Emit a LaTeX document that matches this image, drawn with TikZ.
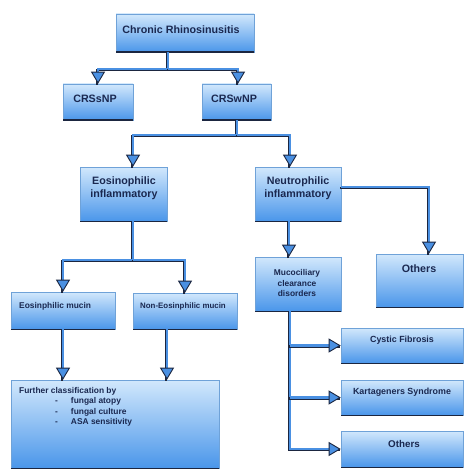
\documentclass[tikz,border=0pt]{standalone}
\usepackage{fontspec}
\setmainfont{Liberation Sans}
\usetikzlibrary{arrows.meta,calc}
\definecolor{lineblue}{HTML}{4A90E2}
\definecolor{navy}{HTML}{1B2640}
\definecolor{txt}{HTML}{1A2850}
\definecolor{boxtop}{HTML}{D2E8FC}
\definecolor{boxbot}{HTML}{4A96EA}
\definecolor{boxline}{HTML}{6FA2D8}
\begin{document}
\begin{tikzpicture}[x=1pt,y=-1pt,
  box/.style={rectangle, draw=boxline, line width=0.6pt, top color=boxtop, bottom color=boxbot, inner sep=0pt},
  lbl/.style={text=txt, align=center, inner sep=0pt},
  fbig/.style={font=\bfseries\fontsize{10.7}{13}\selectfont},
  fsmall/.style={font=\bfseries\fontsize{8.4}{10.5}\selectfont},
  conn/.style={draw=lineblue, line width=2.6pt,
    preaction={draw=navy, line width=2.6pt, arrows=-, transform canvas={shift={(-1pt,-1pt)}}}},
  arr/.style={conn, -{Triangle[width=14pt,length=12pt,fill=lineblue,color=navy,line width=0.9pt]}},
  base/.style={draw=navy, line width=1.6pt}
]
\fill[white] (0,0) rectangle (474,476);
\useasboundingbox (0,0) rectangle (474,476);

% boxes
\node[box, minimum width=138pt, minimum height=38pt] (cr) at (185,33) {};
\node[box, minimum width=70pt, minimum height=36pt] (crss) at (98,102) {};
\node[box, minimum width=69pt, minimum height=36pt] (crsw) at (236.5,102) {};
\node[box, minimum width=87pt, minimum height=54pt] (eos) at (123.5,194) {};
\node[box, minimum width=86pt, minimum height=54pt] (neu) at (298,194) {};
\node[box, minimum width=87pt, minimum height=53pt] (oth1) at (419.5,280.5) {};
\node[box, minimum width=104pt, minimum height=37pt] (emuc) at (63,310.5) {};
\node[box, minimum width=104pt, minimum height=36pt] (nemuc) at (185,311) {};
\node[box, minimum width=208pt, minimum height=88pt] (fur) at (115,424) {};
\node[box, minimum width=86pt, minimum height=54pt] (muco) at (298,284) {};
\node[box, minimum width=122pt, minimum height=35pt] (cf) at (402,345.5) {};
\node[box, minimum width=122pt, minimum height=35pt] (kart) at (402,397.5) {};
\node[box, minimum width=122pt, minimum height=36pt] (oth2) at (402,449) {};

\foreach \b in {cr,crss,crsw,eos,neu,oth1,emuc,nemuc,fur,muco,cf,kart,oth2}
  \draw[base] ([xshift=0.3pt]\b.south west) -- ([xshift=-0.3pt]\b.south east);

% labels
\node[lbl, fbig] (tcr) at (181,30) {Chronic Rhinosinusitis};
\node[lbl, fbig] (tcrss) at (95,99) {CRSsNP};
\node[lbl, fbig] (tcrsw) at (234,99) {CRSwNP};
\node[lbl, fbig] (teos) at (124,188) {Eosinophilic\\inflammatory};
\node[lbl, fbig] (tneu) at (298,188) {Neutrophilic\\inflammatory};
\node[lbl, fbig] (toth1) at (419,269) {Others};
\node[lbl, fsmall, anchor=west] (temuc) at (19,306) {Eosinphilic mucin};
\node[lbl, font=\bfseries\fontsize{7.9}{10}\selectfont] (tnemuc) at (183,306) {Non-Eosinphilic mucin};
\node[lbl, fsmall, anchor=north west, align=left] (tfur) at (19,387)
  {Further classification by\\\hspace{36pt}-\hspace{13pt}fungal atopy\\\hspace{36pt}-\hspace{13pt}fungal culture\\\hspace{36pt}-\hspace{13pt}ASA sensitivity};
\node[lbl, fsmall] (tmuco) at (297,283) {Mucociliary\\clearance\\disorders};
\node[lbl, font=\bfseries\fontsize{8.9}{11}\selectfont] (tcf) at (402,340) {Cystic Fibrosis};
\node[lbl, font=\bfseries\fontsize{8.9}{11}\selectfont] (tkart) at (402,392) {Kartageners Syndrome};
\node[lbl, font=\bfseries\fontsize{9.8}{12}\selectfont] (toth2) at (404,444) {Others};

% connectors
\coordinate (j1) at (168,69);
\draw[conn] (cr.south -| j1) -- (j1);
\draw[arr] (j1) -| (crss.north);
\draw[arr] (j1) -| ([xshift=1.5pt]crsw.north);

\coordinate (j2) at (237,135);
\draw[conn] (crsw.south -| j2) -- (j2);
\draw[arr] (j2) -| ([xshift=9.5pt]eos.north);
\draw[arr] (j2) -| ([xshift=-8pt]neu.north);

\draw[arr] ([yshift=7pt]neu.east) -| ([xshift=9.5pt]oth1.north);

\coordinate (j3) at (133,260);
\draw[conn] (eos.south -| j3) -- (j3);
\draw[arr] (j3) -| (emuc.north);
\draw[arr] (j3) -| (nemuc.north);

\draw[arr] (emuc.south) -- (emuc.south |- fur.north);
\draw[arr] ([xshift=-18pt]nemuc.south) -- ([xshift=-18pt]nemuc.south |- fur.north);

\draw[arr] ([xshift=-9pt]neu.south) -- ([xshift=-9pt]neu.south |- muco.north);

\coordinate (mb) at ([xshift=-8pt]muco.south);
\draw[arr] (mb) |- (oth2.west);
\draw[arr] (mb |- cf.west) -- (cf.west);
\draw[arr] (mb |- kart.west) -- (kart.west);
\end{tikzpicture}
\end{document}
